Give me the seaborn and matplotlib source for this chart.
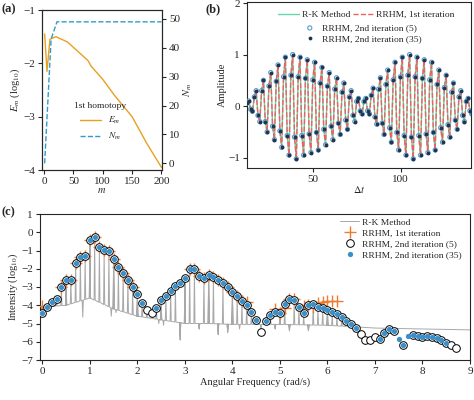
import numpy as np
import matplotlib
matplotlib.use("Agg")
import matplotlib.pyplot as plt
import seaborn as sns

sns.set_style("ticks")
plt.rcParams['font.family'] = ['Liberation Serif', 'DejaVu Serif']
plt.rcParams['font.size'] = 8
plt.rcParams['mathtext.fontset'] = 'stix'

# ---------------- panel (a) data ----------------
m_E = [1, 5, 10, 20, 30, 40, 50, 60, 75, 80, 100, 120, 150, 175, 200]
E_m = [-1.45, -2.15, -1.55, -1.5, -1.55, -1.6, -1.7, -1.8, -1.95, -2.05, -2.3, -2.6, -3.0, -3.5, -3.95]
m_N = [1, 12, 22, 200]
N_m = [0, 43, 49, 49]

# ---------------- panel (b) data ----------------
b_t = [12.5 + 1.04 * i for i in range(124)]
b_amp = [0.06, 0.1, -0.06, -0.1, 0.18, 0.3, -0.18, -0.3, 0.3, 0.5, -0.3, -0.5,
         0.39, 0.65, -0.39, -0.65, 0.48, 0.8, -0.48, -0.8, 0.57, 0.95, -0.57, -0.95,
         0.6, 1.0, -0.6, -1.02, 0.57, 0.95, -0.57, -0.95, 0.54, 0.9, -0.54, -0.9,
         0.51, 0.85, -0.51, -0.85, 0.45, 0.75, -0.45, -0.75, 0.39, 0.65, -0.39, -0.65,
         0.33, 0.55, -0.33, -0.55, 0.27, 0.45, -0.27, -0.45, 0.18, 0.3, -0.18, -0.3,
         0.09, 0.15, -0.09, -0.15, 0.09, 0.15, -0.09, -0.15, 0.21, 0.35, -0.21, -0.35,
         0.33, 0.55, -0.33, -0.55, 0.42, 0.7, -0.42, -0.7, 0.51, 0.85, -0.51, -0.85,
         0.57, 0.95, -0.57, -0.95, 0.6, 1.0, -0.6, -1.02, 0.57, 0.95, -0.57, -0.95,
         0.54, 0.9, -0.54, -0.9, 0.51, 0.85, -0.51, -0.85, 0.42, 0.7, -0.42, -0.7,
         0.36, 0.6, -0.36, -0.6, 0.27, 0.45, -0.27, -0.45, 0.18, 0.3, -0.18, -0.3,
         0.09, 0.15, -0.09, -0.15]

# ---------------- panel (c) data ----------------
w5 = [0.0, 0.1, 0.2, 0.3, 0.4, 0.5, 0.6, 0.7, 0.8, 0.9, 1.0, 1.1, 1.2, 1.3, 1.4, 1.5, 1.6, 1.7, 1.8, 1.9,
      2.0, 2.1, 2.2, 2.3, 2.4, 2.5, 2.6, 2.7, 2.8, 2.9, 3.0, 3.1, 3.2, 3.3, 3.4, 3.5, 3.6, 3.7, 3.8, 3.9,
      4.0, 4.1, 4.2, 4.3, 4.4, 4.5, 4.6, 4.7, 4.8, 4.9, 5.0, 5.1, 5.2, 5.3, 5.4, 5.5, 5.6, 5.7, 5.8, 5.9,
      6.0, 6.1, 6.2, 6.3, 6.4, 6.5, 6.6, 6.7, 6.8, 6.9, 7.0, 7.1, 7.2, 7.3, 7.4, 7.6,
      7.8, 7.9, 8.0, 8.1, 8.2, 8.3, 8.4, 8.5, 8.6, 8.7]
I5 = [-4.45, -4.1, -3.8, -3.65, -3.0, -2.6, -2.6, -1.7, -1.35, -1.3, -0.4, -0.25, -0.8, -0.95, -1.05, -1.45, -1.9, -2.25, -2.6, -3.0,
      -3.4, -3.85, -4.25, -4.4, -4.15, -3.7, -3.5, -3.2, -2.95, -2.8, -2.5, -2.0, -2.0, -2.4, -2.5, -2.35, -2.45, -2.6, -2.8, -3.0,
      -3.25, -3.5, -3.75, -4.0, -4.35, -4.8, -5.45, -4.85, -4.55, -4.35, -4.45, -3.95, -3.65, -3.7, -4.1, -4.45, -4.0, -3.95, -4.1, -4.15,
      -4.25, -4.35, -4.5, -4.65, -4.85, -5.05, -5.25, -5.55, -5.9, -5.9, -5.75, -5.85, -5.5, -5.3, -5.4, -6.2,
      -5.65, -5.7, -5.75, -5.7, -5.75, -5.8, -5.9, -6.05, -6.2, -6.35]
w35 = [0.0, 0.1, 0.2, 0.3, 0.4, 0.5, 0.6, 0.7, 0.8, 0.9, 1.0, 1.1, 1.2, 1.3, 1.4, 1.5, 1.6, 1.7, 1.8, 1.9,
       2.0, 2.1, 2.4, 2.5, 2.6, 2.7, 2.8, 2.9, 3.0, 3.1, 3.2, 3.3, 3.4, 3.5, 3.6, 3.7, 3.8, 3.9,
       4.0, 4.1, 4.2, 4.3, 4.4, 4.5, 4.7, 4.8, 4.9, 5.0, 5.1, 5.2, 5.3, 5.4, 5.5, 5.6, 5.7, 5.8, 5.9,
       6.0, 6.1, 6.2, 6.3, 6.4, 6.5, 6.6, 7.1, 7.2, 7.3, 7.4, 7.5, 7.6, 7.7,
       7.8, 7.9, 8.0, 8.1, 8.2, 8.3, 8.4, 8.5]
I35 = [-4.45, -4.1, -3.8, -3.65, -3.0, -2.6, -2.6, -1.7, -1.35, -1.3, -0.4, -0.25, -0.8, -0.95, -1.05, -1.45, -1.9, -2.25, -2.6, -3.0,
       -3.4, -3.85, -4.15, -3.7, -3.5, -3.2, -2.95, -2.8, -2.5, -2.0, -2.0, -2.4, -2.5, -2.35, -2.45, -2.6, -2.8, -3.0,
       -3.25, -3.5, -3.75, -4.0, -4.35, -4.8, -4.85, -4.55, -4.35, -4.45, -3.95, -3.65, -3.7, -4.1, -4.45, -4.0, -3.95, -4.1, -4.15,
       -4.25, -4.35, -4.5, -4.65, -4.85, -5.05, -5.25, -5.85, -5.5, -5.3, -5.4, -5.85, -6.2, -5.7,
       -5.65, -5.7, -5.75, -5.7, -5.75, -5.8, -5.9, -6.05]
w1 = [0.0, 0.4, 0.5, 0.6, 0.7, 0.8, 0.9, 1.0, 1.1, 1.2, 1.3, 1.4, 1.5, 1.6, 1.7, 1.8, 1.9,
      3.1, 3.2, 3.3, 3.4, 3.5, 3.6, 3.7, 3.8, 3.9, 4.0, 4.1, 4.2, 4.3,
      4.9, 5.0, 5.1, 5.2, 5.3, 5.5, 5.6, 5.7, 5.8, 5.9, 6.0, 6.1, 6.2]
I1 = [-4.05, -3.0, -2.6, -2.6, -1.7, -1.35, -1.3, -0.4, -0.25, -0.8, -0.95, -1.05, -1.45, -1.9, -2.25, -2.6, -3.0,
      -2.0, -2.0, -2.4, -2.5, -2.35, -2.45, -2.6, -2.8, -3.0, -3.25, -3.5, -3.75, -3.8,
      -4.2, -4.4, -4.15, -3.65, -3.65, -4.05, -4.0, -4.1, -3.85, -3.8, -3.75, -3.75, -3.75]
rk_base_w = [0, 0.5, 1.0, 1.5, 2.0, 2.5, 3.0, 3.5, 4.0, 4.5, 5.0, 6.0, 7.0, 8.0, 9.0]
rk_base_I = [-4.1, -4.0, -3.6, -4.2, -4.6, -4.8, -5.0, -5.0, -5.05, -5.05, -5.05, -5.1, -5.25, -5.3, -5.35]
rk_dip_w = [0.85, 1.45, 1.55, 2.45, 2.55, 2.9, 3.3, 3.7, 3.9, 4.15, 4.9, 5.2, 5.6]
rk_dip_I = [-4.65, -4.6, -4.4, -5.0, -5.1, -5.9, -5.3, -5.6, -5.5, -5.3, -5.3, -5.4, -5.4]

fig = plt.figure(figsize=(4.74, 4.0), dpi=100)
LAB = 7.5
LEG = 6.8

# ---- (a)
axa = fig.add_axes([42/474, 1-170/400, 120/474, 160/400])
sns.lineplot(x=m_E, y=E_m, ax=axa, color='#e8a020', lw=1.0, label=r'$E_m$', legend=False)
axa.set_xlim(-3.5, 201)
axa.set_ylim(-4, -1)
axa.set_yticks([-4, -3, -2, -1])
axa.set_xticks([0, 50, 100, 150, 200])
axa.set_xlabel(r'$m$', labelpad=0, fontsize=LAB)
axa.set_ylabel(r'$E_m$ (log$_{10}$)', labelpad=1, fontsize=LAB)
axb2 = axa.twinx()
sns.lineplot(x=m_N, y=N_m, ax=axb2, color='#3399cc', lw=1.0, ls='--', label=r'$N_m$', legend=False)
axb2.set_ylim(-2.3, 53.1)
axb2.set_yticks([0, 10, 20, 30, 40, 50])
axb2.set_ylabel(r'$N_m$', labelpad=1, fontsize=LAB)
h1, l1 = axa.get_legend_handles_labels()
h2, l2 = axb2.get_legend_handles_labels()
axb2.legend(h1 + h2, l1 + l2, title='1st homotopy', frameon=False, loc='lower left',
            bbox_to_anchor=(0.2, 0.12), fontsize=LEG, title_fontsize=LEG, handlelength=2.2)
fig.text(2/474, 1-12/400, '(a)', fontweight='bold', fontsize=9)

# ---- (b)
axb = fig.add_axes([247/474, 1-168/400, 224/474, 166/400])
l_rk, = axb.plot(b_t, b_amp, color='#66d6a8', lw=1.0, label='R-K Method')
l_1, = axb.plot(b_t, b_amp, color='#f06060', lw=1.0, ls='--', label='RRHM, 1st iteration')
s5 = axb.scatter(b_t, b_amp, s=9, facecolors='none', edgecolors='#5b9bc8', lw=0.8, label='RRHM, 2nd iteration (5)', zorder=3)
s35 = axb.scatter(b_t, b_amp, s=3, color='#1f3550', label='RRHM, 2nd iteration (35)', zorder=4)
axb.set_xlim(12.5, 140)
axb.set_ylim(-1.2, 2.02)
axb.set_yticks([-1, 0, 1, 2])
axb.set_xticks([50, 100])
axb.set_xlabel(r'$\Delta t$', labelpad=0, fontsize=LAB)
axb.set_ylabel('Amplitude', labelpad=1, fontsize=LAB)
lg1 = axb.legend([l_rk, l_1], ['R-K Method', 'RRHM, 1st iteration'], ncol=2, frameon=False,
                 loc='upper left', bbox_to_anchor=(0.1, 1.0), fontsize=LEG, handlelength=2.2, columnspacing=0.3, handletextpad=0.3)
axb.add_artist(lg1)
axb.legend([s5, s35], ['RRHM, 2nd iteration (5)', 'RRHM, 2nd iteration (35)'], frameon=False,
           loc='upper left', bbox_to_anchor=(0.2, 0.92), fontsize=LEG, handletextpad=0.3, labelspacing=0.2)
fig.text(205/474, 1-12/400, '(b)', fontweight='bold', fontsize=9)

# ---- (c)
axc = fig.add_axes([40/474, 1-360/400, 430/474, 146/400])
rk_x, rk_y = [], []
for w in sorted(rk_base_w + [v for v in w5 if v <= 6.5] + rk_dip_w):
    b = float(np.interp(w, rk_base_w, rk_base_I))
    if w in rk_dip_w:
        top = rk_dip_I[rk_dip_w.index(w)]
    elif w in w5 and w <= 6.5:
        top = I5[w5.index(w)] - 0.1
    else:
        top = b
    rk_x += [w - 0.012, w, w + 0.012]
    rk_y += [b, top, b]
sns.lineplot(x=rk_x, y=rk_y, ax=axc, color='#a8a8a8', lw=0.7, sort=False, estimator=None, label='R-K Method')
axc.plot(w1, I1, ls='none', marker='+', ms=8, mew=1.0, color='#f07a30', label='RRHM, 1st iteration', zorder=3)
axc.plot(w5, I5, ls='none', marker='o', ms=5.5, mfc='white', mec='black', mew=0.7, label='RRHM, 2nd iteration (5)', zorder=4)
axc.plot(w35, I35, ls='none', marker='o', ms=3.8, mfc='#3a8fc8', mec='#3a8fc8', mew=0, label='RRHM, 2nd iteration (35)', zorder=5)
axc.set_xlim(-0.05, 9)
axc.set_ylim(-7, 1)
axc.set_yticks(range(-7, 2))
axc.set_xticks(range(0, 10))
axc.set_xlabel('Angular Frequency (rad/s)', labelpad=1, fontsize=LAB)
axc.set_ylabel(r'Intensity (log$_{10}$)', labelpad=1, fontsize=LAB)
axc.legend(frameon=False, loc='upper right', bbox_to_anchor=(1.0, 1.03), fontsize=LEG, handletextpad=0.3, labelspacing=0.25)
fig.text(2/474, 1-215/400, '(c)', fontweight='bold', fontsize=9)

for ax in (axa, axb2, axb, axc):
    ax.tick_params(labelsize=8, length=3, pad=2)

fig.savefig('out.png', dpi=100)
